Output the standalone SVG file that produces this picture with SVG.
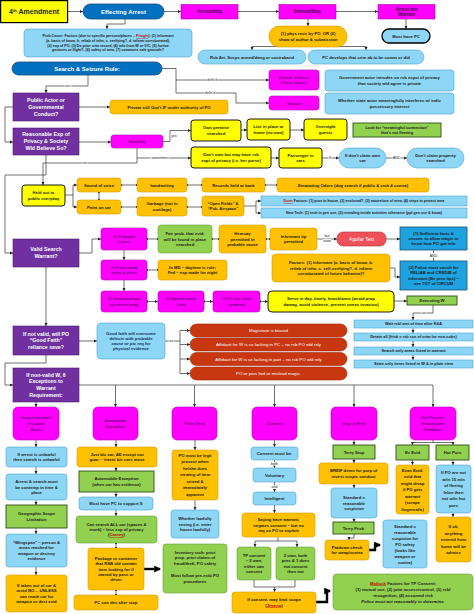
<svg xmlns="http://www.w3.org/2000/svg" width="474" height="614" viewBox="0 0 474 614">
<defs>
<style>
.f{font-family:"Liberation Sans",Arial,sans-serif;text-anchor:middle;font-weight:bold;font-size:4.2px;fill:#1a1a1a}
.w{fill:#fff}
.m{fill:#3a003f}
.n{font-weight:normal}
.it{font-style:italic}
.lbl{font-family:"Liberation Sans",Arial,sans-serif;text-anchor:middle;font-size:3.6px;fill:#222;paint-order:stroke;stroke:#fff;stroke-width:1.4px}
.yel{fill:#FFFF00;stroke:#000;stroke-width:0.9}
.db{fill:#0070C0;stroke:#1F4E79;stroke-width:0.8}
.mg{fill:#FF00FF;stroke:#B000B0;stroke-width:0.6}
.or{fill:#FFC000;stroke:#D39B00;stroke-width:0.6}
.lb{fill:#8ED6F6;stroke:#4AA3CF;stroke-width:0.6}
.gr{fill:#92D050;stroke:#6A9E3A;stroke-width:0.6}
.grd{fill:#92D050;stroke:#2F4F1A;stroke-width:0.9}
.pu{fill:#7030A0;stroke:#4B1F6E;stroke-width:0.6}
.rd{fill:#C8370F;stroke:#A02A0A;stroke-width:0.6}
.ag{fill:#F0505A;stroke:#B03030;stroke-width:0.6}
.bb{fill:#1FA3E0;stroke:#1F4E79;stroke-width:0.8}
.c{fill:none;stroke:#333;stroke-width:0.7}
.a{marker-end:url(#ah)}
.d{marker-start:url(#dot);marker-end:url(#dot)}
.thick{fill:none;stroke:#000;stroke-width:2.4;marker-end:url(#big)}
.red{fill:#C00000;text-decoration:underline}
</style>
<marker id="ah" viewBox="0 0 6 6" refX="6" refY="3" markerWidth="3.2" markerHeight="3.2" markerUnits="userSpaceOnUse" orient="auto"><path d="M0,0L6,3L0,6z" fill="#222"/></marker>
<marker id="dot" viewBox="0 0 4 4" refX="2" refY="2" markerWidth="2.6" markerHeight="2.6" markerUnits="userSpaceOnUse"><circle cx="2" cy="2" r="2" fill="#222"/></marker>
<marker id="big" viewBox="0 0 6 6" refX="5" refY="3" markerWidth="7" markerHeight="7" markerUnits="userSpaceOnUse" orient="auto"><path d="M0,0L6,3L0,6z" fill="#000"/></marker>
</defs>
<rect width="474" height="614" fill="#fff"/>

<g id="connectors">
<path class="c a" d="M68,11.5H83"/>
<path class="c a" d="M164,11.5H181"/>
<path class="c a" d="M238,11.5H279"/>
<path class="c a" d="M336,11.5H378"/>
<path class="c a" d="M125,19V24H107V29"/>
<path class="c a" d="M308,19V26"/>
<path class="c a" d="M406,19V29"/>
<path class="c" d="M252,46.5H366"/>
<path class="c a" d="M252,46.5V50"/>
<path class="c a" d="M366,46.5V50"/>
<path class="c" d="M162,68.5H176V93"/>
<path class="c a" d="M176,80H269"/>
<path class="c a" d="M176,93H236V103H269"/>
<text class="lbl" x="212" y="81.2">defin'd</text>
<text class="lbl" x="210" y="94.2">defin'd</text>
<path class="c a" d="M88,75V86H46V93"/>
<text class="lbl" x="68" y="87.2">act</text>
<path class="c a" d="M79,107H110"/>
<path class="c a" d="M13,107H5V142H13"/>
<path class="c a" d="M79,142H111"/>
<path class="c a" d="M163,141.5H170V130.5H191"/>
<text class="lbl" x="174" y="136.5">yes</text>
<path class="c a" d="M241,130H247"/>
<path class="c a" d="M290,130H304"/>
<path class="c a" d="M137,148V158H191"/>
<text class="lbl" x="160" y="159.2">sometimes</text>
<path class="c a" d="M137,158V163H43V185"/>
<text class="lbl" x="85" y="164.2">no</text>
<path class="c a" d="M271,158H279"/>
<path class="c a" d="M322,158H339"/>
<text class="lbl" x="330" y="159.2">If</text>
<path class="c a" d="M386,158H407"/>
<text class="lbl" x="396.5" y="159.2">AND</text>
<path class="c a" d="M46,155V175H5V253H13"/>
<path class="c" d="M65,195H73M73,185V207"/>
<path class="c a" d="M73,185H77"/>
<path class="c a" d="M73,207H77"/>
<path class="c d" d="M121,185H137"/>
<path class="c d" d="M187,185H202"/>
<path class="c d" d="M265,185H277"/>
<path class="c d" d="M99,192V200"/>
<path class="c d" d="M121,207H137"/>
<path class="c d" d="M187,207H202"/>
<path class="c" d="M244,206H256M256,201V213"/>
<path class="c a" d="M256,201H261"/>
<path class="c a" d="M256,213H261"/>
<path class="c a" d="M79,253H92V239H101"/>
<path class="c d" d="M147,239H158"/>
<path class="c d" d="M212,239H219"/>
<path class="c d" d="M266,239H270"/>
<path class="c a" d="M317,239H337"/>
<text class="lbl" x="327" y="236.6">but</text>
<text class="lbl" x="327" y="242.4">state</text>
<path class="c a" d="M386,239H400"/>
<path class="c" d="M433.5,250V261"/>
<text class="lbl" x="433.5" y="256.8">AND</text>
<path class="c a" d="M390,268H395V277H400"/>
<path class="c a" d="M124,250V260"/>
<path class="c a" d="M124,280V291"/>
<path class="c d" d="M147,270H158"/>
<path class="c a" d="M147,301.5H158" marker-start="url(#dot)"/>
<path class="c a" d="M204,301.5H213" marker-start="url(#dot)"/>
<path class="c a" d="M260,301.5H268" marker-start="url(#dot)"/>
<path class="c a" d="M394,301H407"/>
<path class="c a" d="M433,305V313H413V320"/>
<text class="lbl" x="424" y="314.2">as</text>
<path class="c a" d="M413,328V333"/>
<path class="c a" d="M413,341V347"/>
<path class="c a" d="M413,355V360"/>
<path class="c a" d="M46,267V326"/>
<path class="c a" d="M79,341H97"/>
<path class="c" d="M165,341H180M180,330.5V373.5"/>
<text class="lbl" x="171.5" y="342.2">ex</text>
<path class="c a" d="M180,330.5H190"/>
<path class="c a" d="M180,344.5H190"/>
<path class="c a" d="M180,359H190"/>
<path class="c a" d="M180,373.5H190"/>
<path class="c a" d="M46,355V363H5V385H13"/>
<path class="c" d="M79,385H433"/>
<path class="c a" d="M115.5,385V407"/>
<path class="c a" d="M194.5,385V407"/>
<path class="c a" d="M274.5,385V407"/>
<path class="c a" d="M354,385V407"/>
<path class="c a" d="M433,385V407"/>
<path class="c a" d="M36,402V407"/>
<path class="c a" d="M36,440V447"/>
<path class="c a" d="M36,467V474"/>
<path class="c a" d="M36,500V505"/>
<path class="c a" d="M36,528V534"/>
<path class="c a" d="M36,567V575"/>
<path class="c a" d="M116,440V447"/>
<path class="c a" d="M116,467V471"/>
<path class="c a" d="M116,492V497"/>
<path class="c a" d="M116,510V516"/>
<path class="c d" d="M116,543V548"/>
<path class="c d" d="M116,590V595"/>
<path class="thick" d="M144,569H160"/>
<path class="c a" d="M195,440V450"/>
<path class="c a" d="M195,500V510"/>
<path class="c a" d="M274.5,440V447"/>
<path class="c a" d="M274.5,460V468"/>
<text class="lbl" x="274.5" y="465.2">both</text>
<path class="c a" d="M274.5,482V492"/>
<text class="lbl" x="274.5" y="488.2">and</text>
<path class="c a" d="M274.5,505V513"/>
<path class="c" d="M278,537V541M255,541H297"/>
<path class="c a" d="M255,541V547"/>
<path class="c a" d="M297,541V547"/>
<path class="c" d="M254,580V587M295,580V587M254,587H295"/>
<path class="c a" d="M274.5,587V592"/>
<path class="thick" d="M316,602H327V591H330"/>
<path class="c a" d="M354,440V445"/>
<path class="c a" d="M354,459V463"/>
<path class="c a" d="M354,484V488"/>
<path class="c a" d="M354,518V522"/>
<path class="c a" d="M354,534V538H349V540"/>
<path class="thick" d="M369,550H375V545H380"/>
<path class="c" d="M433,440V442.5M412.5,442.5H453"/>
<path class="c a" d="M412.5,442.5V445"/>
<path class="c a" d="M453,442.5V445"/>
<path class="c a" d="M412.5,460V465"/>
<path class="c a" d="M453,460V465"/>
<path class="c a" d="M453,513V517"/>
</g>

<g id="n-4th"><rect class="yel" x="0.6" y="0.6" width="67" height="22" style="stroke-width:1.2"/><text class="f" x="34" y="14.4" style="font-size:7px">4<tspan dy="-2.6" style="font-size:4.2px">th</tspan><tspan dy="2.6"> Amendment</tspan></text></g>
<g id="n-effect"><rect class="db" x="83" y="4" width="81" height="15" rx="7.5"/><text class="f w" x="123.5" y="13.6" style="font-size:6px">Effecting Arrest</text></g>
<g id="n-acct"><rect class="mg" x="181" y="4.5" width="57" height="14.5"/><text class="f m" x="209.5" y="13.3" style="font-size:4.5px">Accounting</text></g>
<g id="n-seizstop"><rect class="mg" x="279" y="4.5" width="57" height="14.5"/><text class="f m" x="307.5" y="13.3" style="font-size:4.5px">Seizure/Stop</text></g>
<g id="n-arrestwo"><rect class="mg" x="378" y="4.5" width="57" height="14.5"/><text class="f m" style="font-size:4.5px"><tspan x="406.5" y="10.6">Arrest w/o</tspan><tspan x="406.5" y="15.9">Warrant</tspan></text></g>
<g id="n-phys"><rect class="or" x="269" y="26" width="78" height="21" rx="10"/><text class="f"><tspan x="308" y="35.4">(1) phys restr by PO, OR (2)</tspan><tspan x="308" y="40.6">show of author &amp; submission</tspan></text></g>
<g id="n-musthavepc"><rect class="lb" x="382" y="29" width="48" height="14" rx="7" style="stroke:#000;stroke-width:1.3"/><text class="f" x="406" y="37.5">Must have PC</text></g>
<g id="n-pcnote"><rect class="lb" x="24" y="29" width="168" height="28" rx="4"/><text class="f" style="font-size:3.6px"><tspan x="108" y="37">Prob Cause: Factors (due to specific persons/places – <tspan class="red">Pringle</tspan>): (1) informant</tspan><tspan x="108" y="41.8">(a. basis of know, b. reliab of infm, c. verifying?, d. inform corroborated),</tspan><tspan x="108" y="46.6">(2) exp of PO, (3) Ds prior crim record, (4) info from W or V/C, (5) furtive</tspan><tspan x="108" y="51.4">gestures or flight?, (6) safety of area, (7) commons sale grounds?</tspan></text></g>
<g id="n-rsbart"><rect class="lb" x="198" y="50" width="108" height="14" rx="7"/><text class="f" x="252" y="58.5">Rsb Art, Susps armed/dang or contraband</text></g>
<g id="n-pcdev"><rect class="lb" x="308" y="50" width="116" height="14" rx="7"/><text class="f" x="366" y="58.5">PC develops that crim ab to be comm or did</text></g>
<g id="n-ssrule"><rect class="db" x="12" y="62" width="150" height="13" rx="6.5"/><text class="f w" x="87" y="70.6" style="font-size:6px">Search &amp; Seizure Rule:</text></g>
<g id="n-search"><rect class="mg" x="269" y="70" width="50" height="20" rx="3"/><text class="f m n" style="font-size:4.3px"><tspan x="294" y="78.9">Search: Person,</tspan><tspan x="294" y="84.1">Place, House</tspan></text></g>
<g id="n-seizure"><rect class="mg" x="269" y="96" width="50" height="14" rx="3"/><text class="f m n" x="294" y="104.5" style="font-size:4.3px">Seizure</text></g>
<g id="n-govactor"><rect class="lb" x="325" y="70" width="129" height="21" rx="3"/><text class="f"><tspan x="389.5" y="79.4">Government actor intrudes on rsb expct of privacy</tspan><tspan x="389.5" y="84.6">that society wld agree is private</tspan></text></g>
<g id="n-whether"><rect class="lb" x="325" y="93" width="129" height="21" rx="3"/><text class="f"><tspan x="389.5" y="102.4">Whether state actor meaningfully interferes w/ indiv</tspan><tspan x="389.5" y="107.6">possessory interest</tspan></text></g>
<g id="n-public"><rect class="pu" x="13" y="93" width="66" height="28"/><text class="f w" style="font-size:5.3px"><tspan x="46" y="101.9">Public Actor or</tspan><tspan x="46" y="108.9">Governmental</tspan><tspan x="46" y="115.9">Conduct?</tspan></text></g>
<g id="n-private"><rect class="or" x="110" y="100" width="118" height="14" rx="3"/><text class="f" x="169" y="108.5">Private still Gov't IF under authority of PO</text></g>
<g id="n-rep"><rect class="pu" x="13" y="128" width="66" height="27"/><text class="f w" style="font-size:5.3px"><tspan x="46" y="136.4">Reasonable Exp of</tspan><tspan x="46" y="143.4">Privacy &amp; Society</tspan><tspan x="46" y="150.4">Wld Believe So?</tspan></text></g>
<g id="n-standing"><rect class="mg" x="111" y="135" width="52" height="13" rx="3"/><text class="f m n" x="137" y="143" style="font-size:4.3px">Standing</text></g>
<g id="n-ownprem"><rect class="yel" x="191" y="120" width="50" height="21" rx="3"/><text class="f"><tspan x="216" y="129.4">Own premise</tspan><tspan x="216" y="134.6">searched</tspan></text></g>
<g id="n-live"><rect class="yel" x="247" y="119" width="43" height="21" rx="3"/><text class="f"><tspan x="268.5" y="128.4">Live in place or</tspan><tspan x="268.5" y="133.6">home (no own)</tspan></text></g>
<g id="n-overnight"><rect class="yel" x="304" y="119" width="43" height="21" rx="3"/><text class="f"><tspan x="325.5" y="128.4">Overnight</tspan><tspan x="325.5" y="133.6">guests</tspan></text></g>
<g id="n-meaning"><rect class="grd" x="353" y="123" width="88" height="14"/><text class="f" style="font-size:3.9px"><tspan x="397" y="129">Look for “meaningful connection”</tspan><tspan x="397" y="133.8">that's not fleeting</tspan></text></g>
<g id="n-dontown"><rect class="yel" x="191" y="147" width="80" height="21" rx="3"/><text class="f"><tspan x="231" y="156.4">Don't own but may have rsb</tspan><tspan x="231" y="161.6">expt of privacy (i.e. her purse)</tspan></text></g>
<g id="n-passenger"><rect class="yel" x="279" y="148" width="43" height="20" rx="3"/><text class="f"><tspan x="300.5" y="156.9">Passenger in</tspan><tspan x="300.5" y="162.1">cars</tspan></text></g>
<g id="n-claimcar"><rect class="lb" x="339" y="148" width="47" height="20" rx="10"/><text class="f"><tspan x="362.5" y="156.9">If don't claim own</tspan><tspan x="362.5" y="162.1">car</tspan></text></g>
<g id="n-claimprop"><rect class="lb" x="407" y="148" width="57" height="20" rx="10"/><text class="f"><tspan x="435.5" y="156.9">Don't claim property</tspan><tspan x="435.5" y="162.1">searched</tspan></text></g>
<g id="n-heldout"><rect class="yel" x="22" y="185" width="43" height="21" rx="3"/><text class="f"><tspan x="43.5" y="194.4">Held out to</tspan><tspan x="43.5" y="199.6">public everyday</tspan></text></g>
<g id="n-voice"><rect class="or" x="77" y="178" width="44" height="14" rx="3"/><text class="f" x="99" y="186.5">Sound of voice</text></g>
<g id="n-hand"><rect class="or" x="137" y="178" width="50" height="14" rx="3"/><text class="f" x="162" y="186.5">handwriting</text></g>
<g id="n-records"><rect class="or" x="202" y="178" width="63" height="14" rx="3"/><text class="f" x="233.5" y="186.5">Records held at bank</text></g>
<g id="n-odors"><rect class="or" x="277" y="178" width="152" height="14" rx="3"/><text class="f" x="353" y="186.5">Emanating Odors (dog search if public &amp; srch 4 contra)</text></g>
<g id="n-paint"><rect class="or" x="77" y="200" width="44" height="14" rx="3"/><text class="f" x="99" y="208.5">Paint on car</text></g>
<g id="n-garbage"><rect class="or" x="137" y="197" width="50" height="19" rx="3"/><text class="f"><tspan x="162" y="205.4">Garbage (not in</tspan><tspan x="162" y="210.6">curtilage)</tspan></text></g>
<g id="n-openfields"><rect class="or" x="202" y="196" width="42" height="20" rx="3"/><text class="f" style="font-size:4px"><tspan x="223" y="204.9">“Open Fields” &amp;</tspan><tspan x="223" y="210.1">“Pub. Airspace”</tspan></text></g>
<g id="n-dunn"><rect class="lb" x="261" y="196" width="206" height="10"/><text class="f" x="364" y="202.3" style="font-size:3.6px"><tspan class="red">Dunn</tspan> Factors: (1) prox to house, (2) enclosed?, (3) nature/use of area, (4) steps to protect area</text></g>
<g id="n-newtech"><rect class="lb" x="261" y="208" width="206" height="10"/><text class="f" x="364" y="214.3" style="font-size:3.6px">New Tech: (1) tech in gen use, (2) revealing inside activities otherwise (ppl gen use &amp; know)</text></g>
<g id="n-valid"><rect class="pu" x="13" y="239" width="66" height="28"/><text class="f w" style="font-size:5.3px"><tspan x="46" y="251.4">Valid Search</tspan><tspan x="46" y="258.4">Warrant?</tspan></text></g>
<g id="n-pc1"><rect class="mg" x="101" y="228" width="46" height="22" rx="3"/><text class="f m n" style="font-size:4.3px"><tspan x="124" y="237.9">1) Probable</tspan><tspan x="124" y="243.1">Cause</tspan></text></g>
<g id="n-fairprob"><rect class="gr" x="158" y="225" width="54" height="28" rx="3"/><text class="f"><tspan x="185" y="235.3">Fair prob. that evid.</tspan><tspan x="185" y="240.5">will be found in place</tspan><tspan x="185" y="245.7">searched</tspan></text></g>
<g id="n-hearsay"><rect class="or" x="219" y="225" width="47" height="28" rx="3"/><text class="f"><tspan x="242.5" y="235.3">Hearsay</tspan><tspan x="242.5" y="240.5">permitted in</tspan><tspan x="242.5" y="245.7">probable cause</tspan></text></g>
<g id="n-informant"><rect class="or" x="270" y="228" width="47" height="22" rx="3"/><text class="f"><tspan x="293.5" y="237.9">Informant tip</tspan><tspan x="293.5" y="243.1">permitted</tspan></text></g>
<g id="n-aguilar"><rect class="ag" x="337" y="232" width="49" height="14" rx="6"/><text class="f w n" x="361.5" y="240.7" style="font-size:4.8px">Aguilar Test</text></g>
<g id="n-suff"><rect class="bb" x="400" y="227" width="67" height="23"/><text class="f"><tspan x="433.5" y="234.8">(1) Sufficient facts &amp;</tspan><tspan x="433.5" y="240">circum. to allow magis to</tspan><tspan x="433.5" y="245.2">know how PO got info</tspan></text></g>
<g id="n-vouch"><rect class="bb" x="400" y="261" width="67" height="29"/><text class="f"><tspan x="433.5" y="269.2">(2) Police must vouch for</tspan><tspan x="433.5" y="274.4">RELIAB and CREDIB of</tspan><tspan x="433.5" y="279.6">informant (Bv prev tips) –</tspan><tspan x="433.5" y="284.8">use TOT of CIRCUM</tspan></text></g>
<g id="n-factors"><rect class="or" x="272" y="254" width="118" height="28" rx="4"/><text class="f"><tspan x="331" y="264.3">Factors: (1) informant (a. basis of know, b.</tspan><tspan x="331" y="269.5">reliab of infm, c. self-verifying?, d. inform</tspan><tspan x="331" y="274.7">corroborated of future behavior)?</tspan></text></g>
<g id="n-partic"><rect class="mg" x="101" y="260" width="46" height="20" rx="3"/><text class="f m n" style="font-size:4.3px"><tspan x="124" y="268.9">2) Particularity</tspan><tspan x="124" y="274.1">items &amp; place</tspan></text></g>
<g id="n-md"><rect class="or" x="158" y="260" width="69" height="20" rx="3"/><text class="f"><tspan x="192.5" y="268.9">In MD – daytime is rule;</tspan><tspan x="192.5" y="274.1">Fed – exp made for night</tspan></text></g>
<g id="n-review"><rect class="mg" x="101" y="291" width="46" height="21" rx="3"/><text class="f m n" style="font-size:4.3px"><tspan x="124" y="300.4">3) Reviewed/app</tspan><tspan x="124" y="305.6">by neutral mag</tspan></text></g>
<g id="n-oath"><rect class="mg" x="158" y="291" width="46" height="21" rx="3"/><text class="f m n" style="font-size:4.3px"><tspan x="181" y="300.4">4) Signed under</tspan><tspan x="181" y="305.6">Oath</tspan></text></g>
<g id="n-stale"><rect class="mg" x="213" y="291" width="47" height="21" rx="3"/><text class="f m n" style="font-size:4.3px"><tspan x="236.5" y="300.4">5) PC not stale/</tspan><tspan x="236.5" y="305.6">outdated</tspan></text></g>
<g id="n-serve"><rect class="yel" x="268" y="291" width="126" height="21" rx="4"/><text class="f"><tspan x="331" y="300.4">Serve in day, timely, knock/annc (avoid prop</tspan><tspan x="331" y="305.6">damag, avoid violence, prevent unnec invasion)</tspan></text></g>
<g id="n-exec"><rect class="grd" x="407" y="296" width="50" height="9"/><text class="f" x="432" y="302">Executing W</text></g>
<g id="n-wait"><rect class="lb" x="354" y="320" width="119" height="8"/><text class="f" x="413.5" y="325.4" style="font-size:3.9px">Wait rsbl amt of time after K&amp;A</text></g>
<g id="n-detain"><rect class="lb" x="354" y="333" width="119" height="8"/><text class="f" x="413.5" y="338.4" style="font-size:3.9px">Detain all (frisk = rsb sus of crim for non-subs)</text></g>
<g id="n-areas"><rect class="lb" x="354" y="347" width="119" height="8"/><text class="f" x="413.5" y="352.4" style="font-size:3.9px">Search only areas listed in warrant</text></g>
<g id="n-items"><rect class="lb" x="354" y="360" width="119" height="8"/><text class="f" x="413.5" y="365.4" style="font-size:3.9px">Seize only items listed in W &amp; in plain view</text></g>
<g id="n-gfq"><rect class="pu" x="13" y="326" width="66" height="29"/><text class="f w" style="font-size:5.2px"><tspan x="46" y="335.5">If not valid, will PO</tspan><tspan x="46" y="342.3">“Good Faith”</tspan><tspan x="46" y="349.1">reliance save?</tspan></text></g>
<g id="n-goodfaith"><rect class="lb" x="97" y="323" width="68" height="36" rx="4"/><text class="f" style="fill:#12305a"><tspan x="131" y="334.7">Good faith will overcome</tspan><tspan x="131" y="339.9">defects with probable</tspan><tspan x="131" y="345.1">cause or ptc req for</tspan><tspan x="131" y="350.3">physical evidence</tspan></text></g>
<g id="n-biased"><rect class="rd" x="190" y="324" width="157" height="13" rx="6.5"/><text class="f w n" x="268.5" y="332.1" style="font-size:4.4px">Magistrate is biased</text></g>
<g id="n-lackpc"><rect class="rd" x="190" y="338" width="157" height="13" rx="6.5"/><text class="f w n" x="268.5" y="346.1" style="font-size:4.4px">Affidavit for W is so lacking in PC – no rsb PO wld rely</text></g>
<g id="n-lackpart"><rect class="rd" x="190" y="352.5" width="157" height="13" rx="6.5"/><text class="f w n" x="268.5" y="360.6" style="font-size:4.4px">Affidavit for W is so lacking in part – no rsb PO wld rely</text></g>
<g id="n-lied"><rect class="rd" x="190" y="367" width="157" height="13" rx="6.5"/><text class="f w n" x="268.5" y="375.1" style="font-size:4.4px">PO or pros lied or mislead magis.</text></g>
<g id="n-exceptions"><rect class="pu" x="13" y="368" width="66" height="34"/><text class="f w" style="font-size:5.2px"><tspan x="46" y="376.6">If non-valid W, 6</tspan><tspan x="46" y="383.4">Exceptions to</tspan><tspan x="46" y="390.2">Warrant</tspan><tspan x="46" y="397">Requirement:</tspan></text></g>
<g id="n-sita"><rect class="mg" x="13" y="407" width="46" height="33" rx="5"/><text class="f m n" style="font-size:4.4px"><tspan x="36" y="419">Search Incident</tspan><tspan x="36" y="424.8">to Lawful</tspan><tspan x="36" y="430.6">Arrest</tspan></text></g>
<g id="n-autoex"><rect class="mg" x="93" y="407" width="45" height="33" rx="5"/><text class="f m n" style="font-size:4.4px"><tspan x="115.5" y="422">Automobile</tspan><tspan x="115.5" y="427.8">Exception</tspan></text></g>
<g id="n-plain"><rect class="mg" x="172" y="407" width="45" height="33" rx="5"/><text class="f m n" x="194.5" y="425" style="font-size:4.4px">Plain View</text></g>
<g id="n-consent"><rect class="mg" x="252" y="407" width="45" height="33" rx="5"/><text class="f m n" x="274.5" y="425" style="font-size:4.4px">Consent</text></g>
<g id="n-stopfrisk"><rect class="mg" x="331" y="407" width="46" height="33" rx="5"/><text class="f m n" x="354" y="425" style="font-size:4.4px">Stop &amp; Frisk</text></g>
<g id="n-hotpursuit"><rect class="mg" x="410" y="407" width="46" height="33" rx="5"/><text class="f m n" style="font-size:4.4px"><tspan x="433" y="419">Hot Pursuit /</tspan><tspan x="433" y="424.8">Evanescent</tspan><tspan x="433" y="430.6">Evidence</tspan></text></g>
<g id="n-unlawful"><rect class="lb" x="6" y="447" width="61" height="20" rx="3"/><text class="f"><tspan x="36.5" y="455.9">If arrest is unlawful</tspan><tspan x="36.5" y="461.1">then search is unlawful</tspan></text></g>
<g id="n-contemp"><rect class="lb" x="6" y="474" width="61" height="26" rx="3"/><text class="f"><tspan x="36.5" y="483.3">Arrest &amp; search must</tspan><tspan x="36.5" y="488.5">be contemp in time &amp;</tspan><tspan x="36.5" y="493.7">place</tspan></text></g>
<g id="n-geo"><rect class="grd" x="6" y="505" width="61" height="23"/><text class="f"><tspan x="36.5" y="515.4">Geographic Scope</tspan><tspan x="36.5" y="520.6">Limitation</tspan></text></g>
<g id="n-wingspan"><rect class="lb" x="6" y="534" width="61" height="33" rx="3"/><text class="f"><tspan x="36.5" y="544.2">“Wingspan” – person &amp;</tspan><tspan x="36.5" y="549.4">areas reached for</tspan><tspan x="36.5" y="554.6">weapon or destroy</tspan><tspan x="36.5" y="559.8">evidence</tspan></text></g>
<g id="n-takenout"><rect class="or" x="6" y="575" width="61" height="37" rx="3"/><text class="f"><tspan x="36.5" y="587.2">If taken out of car &amp;</tspan><tspan x="36.5" y="592.4">arstd NO… UNLESS</tspan><tspan x="36.5" y="597.6">can reach car for</tspan><tspan x="36.5" y="602.8">weapon or dest evid</tspan></text></g>
<g id="n-justcar"><rect class="or" x="77" y="447" width="80" height="20" rx="3"/><text class="f"><tspan x="117" y="455.9">Just b/c car, AE except not</tspan><tspan x="117" y="461.1">guar. – intent b/c cars move</tspan></text></g>
<g id="n-autoev"><rect class="grd" x="79" y="471" width="75" height="21"/><text class="f"><tspan x="116.5" y="480.4">Automobile Exception</tspan><tspan x="116.5" y="485.6">(when car has evidence)</tspan></text></g>
<g id="n-pcsupport"><rect class="lb" x="79" y="497" width="74" height="13" rx="3"/><text class="f" x="116" y="505">Must have PC to support S</text></g>
<g id="n-searchall"><rect class="gr" x="76" y="516" width="81" height="27" rx="3"/><text class="f"><tspan x="116.5" y="525.8">Can search ALL car (spaces &amp;</tspan><tspan x="116.5" y="531">trunk) – less exp of privacy</tspan><tspan x="116.5" y="536.2">(<tspan class="red">Carney</tspan>)</tspan></text></g>
<g id="n-package"><rect class="or" x="88" y="548" width="56" height="42" rx="3"/><text class="f"><tspan x="116" y="560.1">Package or container</tspan><tspan x="116" y="565.3">that RSB old contain</tspan><tspan x="116" y="570.5">item looking for if</tspan><tspan x="116" y="575.7">owned by pass or</tspan><tspan x="116" y="580.9">driver</tspan></text></g>
<g id="n-pcdevstop"><rect class="or" x="74" y="595" width="84" height="15" rx="3"/><text class="f" x="116" y="604">PC can dev after stop</text></g>
<g id="n-legit"><rect class="or" x="172" y="450" width="46" height="50" rx="3"/><text class="f"><tspan x="195" y="456.5">PO must be legit</tspan><tspan x="195" y="463" class="it">present when</tspan><tspan x="195" y="469.5">he/she does</tspan><tspan x="195" y="476">viewing of item</tspan><tspan x="195" y="482.5">seized &amp;</tspan><tspan x="195" y="489" class="it">immediately</tspan><tspan x="195" y="495.5" class="it">apparent</tspan></text></g>
<g id="n-lawfully"><rect class="lb" x="171" y="510" width="48" height="28" rx="3"/><text class="f"><tspan x="195" y="520.3">Whether lawfully</tspan><tspan x="195" y="525.5">seeing (i.e. enter</tspan><tspan x="195" y="530.7">house lawfully)</tspan></text></g>
<g id="n-inventory"><rect class="gr" x="163" y="544" width="64" height="49" rx="3"/><text class="f"><tspan x="195" y="553.5">Inventory srch: prtct</tspan><tspan x="195" y="559">prop, prtct claims of</tspan><tspan x="195" y="564.5">fraud/theft, PO safety</tspan><tspan x="195" y="577">Must follow pre-estb PO</tspan><tspan x="195" y="582.5">procedures</tspan></text></g>
<g id="n-mustbe"><rect class="lb" x="251" y="447" width="47" height="13" rx="3"/><text class="f" x="274.5" y="455">Consent must be:</text></g>
<g id="n-voluntary"><rect class="lb" x="253" y="468" width="43" height="14" rx="3"/><text class="f" x="274.5" y="476.5">Voluntary</text></g>
<g id="n-intelligent"><rect class="lb" x="253" y="492" width="43" height="13" rx="3"/><text class="f" x="274.5" y="500">Intelligent</text></g>
<g id="n-saying"><rect class="or" x="242" y="513" width="73" height="24" rx="3"/><text class="f"><tspan x="278.5" y="521.3">Saying have warrant,</tspan><tspan x="278.5" y="526.5">negates consent – but no</tspan><tspan x="278.5" y="531.7">req on PO to explain</tspan></text></g>
<g id="n-tp"><rect class="gr" x="237" y="547" width="34" height="33" rx="3"/><text class="f"><tspan x="254" y="557.2">TP consent</tspan><tspan x="254" y="562.4">– 2 own,</tspan><tspan x="254" y="567.6">either can</tspan><tspan x="254" y="572.8">consent</tspan></text></g>
<g id="n-2own"><rect class="gr" x="276" y="547" width="39" height="33" rx="3"/><text class="f"><tspan x="295.5" y="557.2">2 own, both</tspan><tspan x="295.5" y="562.4">pres &amp; 1 does</tspan><tspan x="295.5" y="567.6">not consent</tspan><tspan x="295.5" y="572.8">then not</tspan></text></g>
<g id="n-limit"><rect class="or" x="232" y="592" width="84" height="21" rx="3"/><text class="f"><tspan x="274" y="601.4">If consent, may limit scope</tspan><tspan x="274" y="606.6">(<tspan class="red">Jimeno</tspan>)</tspan></text></g>
<g id="n-matlock"><rect class="gr" x="333" y="574" width="140" height="36" rx="4"/><text class="f" style="font-size:4.3px"><tspan x="403" y="584.5"><tspan class="red">Matlock</tspan> Factors for TP Consent:</tspan><tspan x="403" y="590.5">(1) mutual use, (2) joint access/control, (3) rsbl</tspan><tspan x="403" y="596.5">recognition, (4) assumed risk</tspan><tspan x="403" y="602.5" class="it">Police must act reasonably to determine.</tspan></text></g>
<g id="n-terrystop"><rect class="grd" x="333" y="445" width="42" height="14"/><text class="f" x="354" y="453.5">Terry Stop</text></g>
<g id="n-brief"><rect class="or" x="319" y="463" width="69" height="21" rx="3"/><text class="f"><tspan x="353.5" y="472.4">BREIF deten for purp of</tspan><tspan x="353.5" y="477.6">invest suspic conduct</tspan></text></g>
<g id="n-rsstd"><rect class="lb" x="331" y="488" width="46" height="30" rx="3"/><text class="f"><tspan x="354" y="499.3">Standard =</tspan><tspan x="354" y="504.5">reasonable</tspan><tspan x="354" y="509.7">suspicion</tspan></text></g>
<g id="n-terryfrisk"><rect class="grd" x="333" y="522" width="41" height="12"/><text class="f" x="353.5" y="529.5">Terry Frisk</text></g>
<g id="n-patdown"><rect class="or" x="325" y="540" width="44" height="20" rx="3"/><text class="f"><tspan x="347" y="548.9">Patdown check</tspan><tspan x="347" y="554.1">for weap/contra</tspan></text></g>
<g id="n-safety"><rect class="lb" x="383" y="520" width="44" height="48" rx="3"/><text class="f"><tspan x="405" y="527.5">Standard =</tspan><tspan x="405" y="533.5">reasonable</tspan><tspan x="405" y="539.5">suspicion for</tspan><tspan x="405" y="545.5">PO safety</tspan><tspan x="405" y="551.5">(looks like</tspan><tspan x="405" y="557.5">weapon or</tspan><tspan x="405" y="563.5">contra)</tspan></text></g>
<g id="n-evevid"><rect class="grd" x="396" y="445" width="33" height="15"/><text class="f" x="412.5" y="454">Ev Evid</text></g>
<g id="n-hotpurs"><rect class="grd" x="436" y="445" width="33" height="15"/><text class="f" x="452.5" y="454">Hot Purs</text></g>
<g id="n-evan"><rect class="or" x="396" y="465" width="33" height="49" rx="3"/><text class="f"><tspan x="412.5" y="471.5">Evan Evid:</tspan><tspan x="412.5" y="478">evid that</tspan><tspan x="412.5" y="484.5">might disap</tspan><tspan x="412.5" y="491">if PO gets</tspan><tspan x="412.5" y="497.5">warrant</tspan><tspan x="412.5" y="504">(scrape</tspan><tspan x="412.5" y="510.5">fingernails)</tspan></text></g>
<g id="n-15min"><rect class="lb" x="436" y="465" width="35" height="48" rx="3"/><text class="f"><tspan x="453.5" y="474.3">If PO are not</tspan><tspan x="453.5" y="480.8">w/in 15 min</tspan><tspan x="453.5" y="487.3">of fleeing</tspan><tspan x="453.5" y="493.8">felon then</tspan><tspan x="453.5" y="500.3">not w/in hot</tspan><tspan x="453.5" y="506.8">purs</tspan></text></g>
<g id="n-ifok"><rect class="or" x="436" y="517" width="35" height="45" rx="3"/><text class="f"><tspan x="453.5" y="528">If ok,</tspan><tspan x="453.5" y="534.5">anything</tspan><tspan x="453.5" y="541">entered from</tspan><tspan x="453.5" y="547.5">home will be</tspan><tspan x="453.5" y="554">admiss</tspan></text></g>
</svg>
